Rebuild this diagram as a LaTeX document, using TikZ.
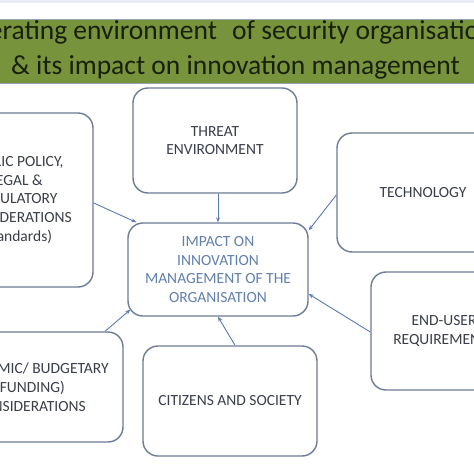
\documentclass[tikz,border=0pt]{standalone}
\usepackage{fontspec}
\setmainfont{Carlito}
\usetikzlibrary{calc,arrows.meta}
\definecolor{titlegreen}{RGB}{119,147,60}
\definecolor{titletext}{RGB}{24,32,12}
\definecolor{boxline}{RGB}{108,124,150}
\definecolor{boxtext}{RGB}{58,62,74}
\definecolor{ctrtext}{RGB}{98,128,172}
\definecolor{arrowcol}{RGB}{88,124,180}
\definecolor{topstrip}{RGB}{232,238,244}
\tikzset{
  box/.style={draw=boxline, line width=1.4pt, rounded corners=15pt, fill=white,
    inner sep=0pt, align=center, text=boxtext, font=\fontsize{15.5}{18.8}\selectfont},
  ctrbox/.style={box, text=ctrtext},
  arr/.style={draw=arrowcol, line width=0.9pt, -{Stealth[length=5pt,width=4pt]}},
  titlefont/.style={font=\fontsize{27.5}{33}\selectfont, text=titletext, inner sep=0pt}
}
\begin{document}
\begin{tikzpicture}[x=1pt,y=-1pt]
\useasboundingbox (0,0) rectangle (474,474);
\clip (0,0) rectangle (474,474);
\fill[white] (0,0) rectangle (474,474);
\fill[topstrip] (0,0) rectangle (474,3);
% title band
\fill[titlegreen] (-2,19) rectangle (476,83);
\draw[boxline!70, line width=0.6pt] (-2,19) -- (476,19) (-2,83) -- (476,83);
\node[titlefont, anchor=base west] (t1) at (-44,39) {Operating environment\hspace{9pt} of security organisations};
\node[titlefont, anchor=base] (t2) at (235.5,74) {\& its impact on innovation management};
% boxes
\node[box, minimum width=164pt, minimum height=105pt] (threat) at (215,140.5) {THREAT\\ENVIRONMENT};
\node[box, minimum width=154pt, minimum height=174pt] (public) at (16,200) {PUBLIC POLICY,\\LEGAL \&\\REGULATORY\\CONSIDERATIONS\\(Standards)};
\node[ctrbox, minimum width=180pt, minimum height=93pt] (center) at (218,269.5) {IMPACT ON\\INNOVATION\\MANAGEMENT OF THE\\ORGANISATION};
\node[box, minimum width=172pt, minimum height=119pt] (tech) at (423,192.5) {TECHNOLOGY};
\node[box, minimum width=146pt, minimum height=118pt] (enduser) at (444,331) {END-USER\\REQUIREMENTS};
\node[box, minimum width=186pt, minimum height=110pt] (econ) at (30,387) {ECONOMIC/ BUDGETARY\\(FUNDING)\\CONSIDERATIONS};
\node[box, minimum width=174pt, minimum height=110pt] (citizens) at (230,401) {CITIZENS AND SOCIETY};
% connectors
\draw[arr] (threat.south -| center.north) -- (center.north);
\draw[arr] ($(public.east)+(0,3)$) -- ($(center.north west)+(9,0)$);
\draw[arr] ($(tech.west)+(0,2.5)$) -- ($(center.north east)+(0,8)$);
\draw[arr] ($(enduser.west)+(0,1)$) -- ($(center.east)+(0,24.5)$);
\draw[arr] ($(econ.north)+(75,0)$) -- ($(center.south west)+(3,-7)$);
\draw[arr] ($(citizens.north)+(5,0)$) -- (center.south);
\end{tikzpicture}
\end{document}
